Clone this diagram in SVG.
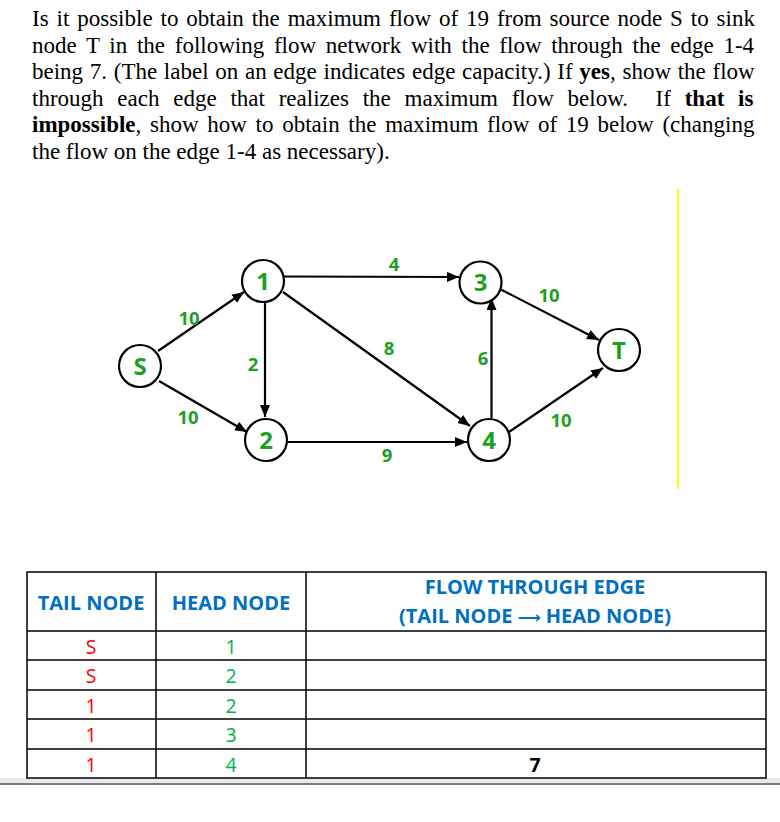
<svg xmlns="http://www.w3.org/2000/svg" width="780" height="822" viewBox="0 0 780 822">
<style>
.para{font-family:"Liberation Serif","Times New Roman",serif;font-size:23px;fill:#000}
.b{font-weight:bold}
.node circle{fill:#fff;stroke:#000;stroke-width:2.2}
.nlab{font-family:"Open Sans","Liberation Sans",sans-serif;font-weight:700;font-size:24px;fill:#1f9f1f;text-anchor:middle}
.elab{font-family:"Open Sans","Liberation Sans",sans-serif;font-weight:700;font-size:18.5px;fill:#1f9f1f;text-anchor:middle}
.edge{stroke:#000;stroke-width:2.2;fill:none;marker-end:url(#arr)}
.grid{stroke:#000;stroke-width:1.5;fill:none}
.hdr{font-family:"Open Sans","Liberation Sans",sans-serif;font-weight:700;font-size:20px;fill:#0070c0;text-anchor:middle}
.arw{font-family:"DejaVu Sans",sans-serif;font-weight:700;font-size:16px}
.tail{font-family:"Open Sans","Liberation Sans",sans-serif;font-size:19.5px;fill:#ff0000;text-anchor:middle}
.head{font-family:"Open Sans","Liberation Sans",sans-serif;font-size:19.5px;fill:#00b050;text-anchor:middle}
.val{font-family:"Open Sans","Liberation Sans",sans-serif;font-weight:700;font-size:19.5px;fill:#000;text-anchor:middle}
</style>
<defs>
<marker id="arr" markerUnits="userSpaceOnUse" markerWidth="13" markerHeight="11" refX="12" refY="5" orient="auto">
<path d="M0,0 L12,5 L0,10 z" fill="#000"/>
</marker>
</defs>
<rect width="780" height="822" fill="#fff"/>

<g id="question">
<text class="para" x="32" y="26" style="word-spacing:2.16px">Is it possible to obtain the maximum flow of 19 from source node S to sink</text>
<text class="para" x="32" y="52.6" style="word-spacing:3.97px">node T in the following flow network with the flow through the edge 1-4</text>
<text class="para" x="32" y="79.2" style="word-spacing:0.95px">being 7. (The label on an edge indicates edge capacity.) If <tspan class="b">yes</tspan>, show the flow</text>
<text class="para" x="32" y="105.8" style="word-spacing:8.03px" xml:space="preserve">through each edge that realizes the maximum flow below.  If <tspan class="b">that is</tspan></text>
<text class="para" x="32" y="132.4" style="word-spacing:2.95px"><tspan class="b">impossible</tspan>, show how to obtain the maximum flow of 19 below (changing</text>
<text class="para" x="32" y="159">the flow on the edge 1-4 as necessary).</text>
</g>

<line id="yellow-rule" x1="678" y1="189" x2="678" y2="489" stroke="#ffff00" stroke-width="2"/>

<g id="connectors">
<path class="edge" d="M158,351 L244,292"/>
<path class="edge" d="M159,381 L247,432"/>
<path class="edge" d="M265,302 L265,417"/>
<path class="edge" d="M284,276.5 L459,277"/>
<path class="edge" d="M283,292 L470,426"/>
<path class="edge" d="M288,442 L467,442"/>
<path class="edge" d="M491.5,418 L491.5,298"/>
<path class="edge" d="M500,289 L599,340"/>
<path class="edge" d="M509,432 L603,368"/>
</g>

<g id="edge-labels">
<text class="elab" x="189" y="324.5">10</text>
<text class="elab" x="253" y="370.5">2</text>
<text class="elab" x="188" y="423.5">10</text>
<text class="elab" x="394" y="270.5">4</text>
<text class="elab" x="389" y="354.5">8</text>
<text class="elab" x="483" y="364.5">6</text>
<text class="elab" x="387" y="461.5">9</text>
<text class="elab" x="549" y="301.5">10</text>
<text class="elab" x="561" y="426.5">10</text>
</g>

<g id="node-S" class="node"><circle cx="140" cy="366" r="21"/><text class="nlab" x="140" y="374.5">S</text></g>
<g id="node-1" class="node"><circle cx="263" cy="281" r="21"/><text class="nlab" x="263" y="289.5">1</text></g>
<g id="node-2" class="node"><circle cx="266" cy="440" r="21"/><text class="nlab" x="266" y="448.5">2</text></g>
<g id="node-3" class="node"><circle cx="480.5" cy="282.5" r="21"/><text class="nlab" x="480.5" y="291">3</text></g>
<g id="node-4" class="node"><circle cx="489" cy="440" r="21"/><text class="nlab" x="489" y="448.5">4</text></g>
<g id="node-T" class="node"><circle cx="619" cy="350" r="21"/><text class="nlab" x="619" y="358.5">T</text></g>

<g id="page-edge">
<rect x="0" y="778" width="780" height="5" fill="#e9e9e9"/>
<line x1="0" y1="784" x2="780" y2="784" stroke="#505050" stroke-width="1.6"/>
</g>

<g id="table">
<rect x="27" y="572" width="739" height="206" fill="#fff"/>
<rect class="grid" x="27" y="572" width="739" height="206"/>
<line class="grid" x1="156" y1="572" x2="156" y2="778"/>
<line class="grid" x1="306" y1="572" x2="306" y2="778"/>
<line class="grid" x1="27" y1="631" x2="766" y2="631"/>
<line class="grid" x1="27" y1="660" x2="766" y2="660"/>
<line class="grid" x1="27" y1="690" x2="766" y2="690"/>
<line class="grid" x1="27" y1="719" x2="766" y2="719"/>
<line class="grid" x1="27" y1="749" x2="766" y2="749"/>
<text class="hdr" x="91" y="610">TAIL NODE</text>
<text class="hdr" x="231" y="610">HEAD NODE</text>
<text class="hdr" x="535" y="594">FLOW THROUGH EDGE</text>
<text class="hdr" x="535" y="623">(TAIL NODE <tspan class="arw">⟶</tspan> HEAD NODE)</text>
<text class="tail" x="91" y="654">S</text><text class="head" x="231" y="654">1</text>
<text class="tail" x="91" y="683">S</text><text class="head" x="231" y="683">2</text>
<text class="tail" x="91" y="713">1</text><text class="head" x="231" y="713">2</text>
<text class="tail" x="91" y="742">1</text><text class="head" x="231" y="742">3</text>
<text class="tail" x="91" y="772">1</text><text class="head" x="231" y="772">4</text>
<text class="val" x="535" y="772">7</text>
</g>
</svg>
